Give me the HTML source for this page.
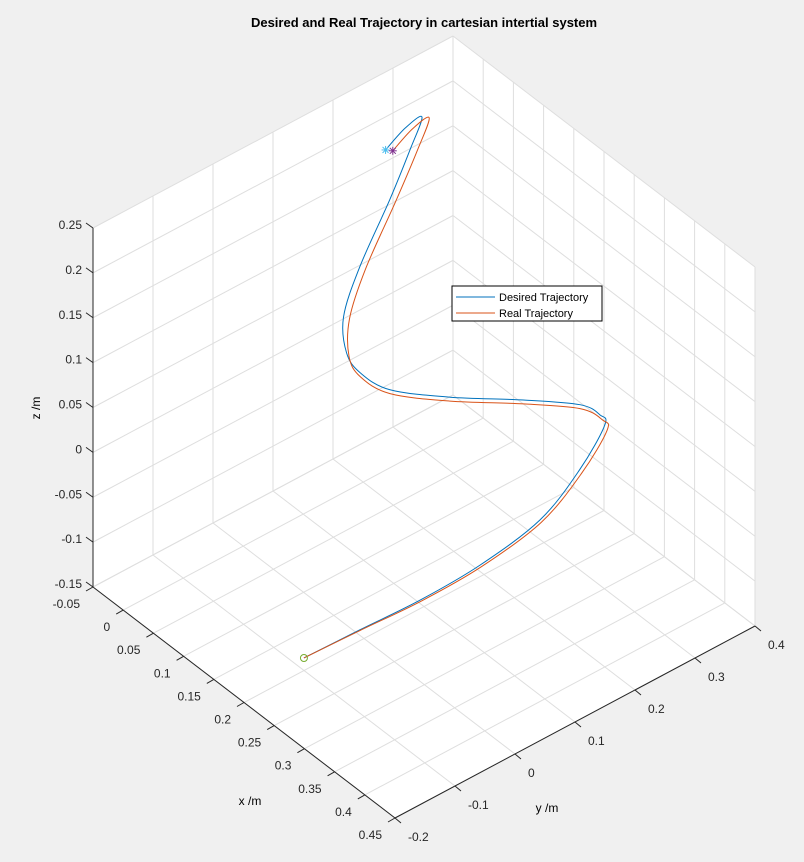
<!DOCTYPE html>
<html><head><meta charset="utf-8"><style>
body{margin:0;background:#f0f0f0;}
svg{display:block;font-family:"Liberation Sans",Arial,sans-serif;}
</style></head><body>
<svg id="chart" width="804" height="862" viewBox="0 0 804 862" xmlns="http://www.w3.org/2000/svg">
<rect width="804" height="862" fill="#f0f0f0"/>
<text x="424" y="27" text-anchor="middle" font-size="13" font-weight="bold" fill="#000">Desired and Real Trajectory in cartesian intertial system</text>
<g id="box"></g><g id="grid"></g><g id="axes"></g><g id="series"></g>
<g>
<rect x="452" y="286" width="150" height="35" fill="#fff" stroke="#000" stroke-width="1"/>
<line x1="456" y1="297" x2="495" y2="297" stroke="#0072bd" stroke-width="1"/>
<text x="499" y="301" font-size="11">Desired Trajectory</text>
<line x1="456" y1="313" x2="495" y2="313" stroke="#d95319" stroke-width="1"/>
<text x="499" y="317" font-size="11">Real Trajectory</text>
</g>
<text x="250" y="805" text-anchor="middle" font-size="12">x /m</text>
<text x="547" y="812" text-anchor="middle" font-size="12">y /m</text>
<text transform="translate(40,408) rotate(-90)" text-anchor="middle" font-size="12">z /m</text>
</svg>
<script>
const xTicks=[-0.05,0,0.05,0.1,0.15,0.2,0.25,0.3,0.35,0.4,0.45];
const yTicks=[-0.2,-0.1,0,0.1,0.2,0.3,0.4];
const zTicks=[-0.15,-0.1,-0.05,0,0.05,0.1,0.15,0.2,0.25];
const xTickLabels=["-0.05","0","0.05","0.1","0.15","0.2","0.25","0.3","0.35","0.4","0.45"];
const yTickLabels=["-0.2","-0.1","0","0.1","0.2","0.3","0.4"];
const zTickLabels=["-0.15","-0.1","-0.05","0","0.05","0.1","0.15","0.2","0.25"];
const desX=[0.184,0.209,0.235,0.254,0.260,0.246,0.229,0.224,0.209,0.176,0.134,0.095,0.065,0.053,0.028,0.021,0.013,0.003,-0.002,0.012,0.038];
const desY=[-0.084,-0.016,0.058,0.139,0.233,0.313,0.372,0.369,0.351,0.290,0.210,0.149,0.130,0.119,0.139,0.173,0.231,0.275,0.300,0.258,0.199];
const desZ=[-0.15,-0.13,-0.11,-0.09,-0.07,-0.05,-0.03,-0.02,-0.01,0.0,0.01,0.02,0.03,0.05,0.07,0.11,0.16,0.195,0.22,0.23,0.24];
const realX=[0.184,0.210,0.237,0.257,0.264,0.252,0.237,0.232,0.214,0.181,0.139,0.100,0.070,0.059,0.034,0.027,0.019,0.009,0.004,0.018,0.044];
const realY=[-0.084,-0.016,0.058,0.138,0.231,0.310,0.368,0.365,0.346,0.285,0.205,0.144,0.125,0.117,0.143,0.177,0.235,0.281,0.306,0.264,0.205];
const realZ=[-0.15,-0.13,-0.11,-0.09,-0.07,-0.05,-0.03,-0.02,-0.01,0.0,0.01,0.02,0.03,0.05,0.07,0.11,0.16,0.195,0.22,0.23,0.24];
const X0=-0.05,X1=0.45,Y0=-0.2,Y1=0.4,Z0=-0.15,Z1=0.25;
function P(x,y,z){const u=x-X1,v=y-Y0,w=z-Z0;return [395+604*u+600*v, 818+462*u-320*v-897.5*w];}
const NS="http://www.w3.org/2000/svg";
function mk(tag,attrs,parent){const e=document.createElementNS(NS,tag);for(const k in attrs)e.setAttribute(k,attrs[k]);parent.appendChild(e);return e;}
const box=document.getElementById('box'),grid=document.getElementById('grid'),axes=document.getElementById('axes'),series=document.getElementById('series');
const poly=[P(X0,Y0,Z0),P(X0,Y0,Z1),P(X0,Y1,Z1),P(X1,Y1,Z1),P(X1,Y1,Z0),P(X1,Y0,Z0)];
const bg=mk('polygon',{points:poly.map(p=>p.join(',')).join(' '),fill:'#fff'},box);


function gl(a,b,name){const l=mk('line',{x1:a[0],y1:a[1],x2:b[0],y2:b[1],stroke:'#dedede','stroke-width':1},grid);

}
xTicks.forEach(x=>{gl(P(x,Y0,Z0),P(x,Y1,Z0),'x-grid-floor');gl(P(x,Y1,Z0),P(x,Y1,Z1),'x-grid-wall');});
yTicks.forEach(y=>{gl(P(X0,y,Z0),P(X1,y,Z0),'y-grid-floor');gl(P(X0,y,Z0),P(X0,y,Z1),'y-grid-wall');});
zTicks.forEach(z=>{gl(P(X0,Y0,z),P(X0,Y1,z),'z-grid-left');gl(P(X0,Y1,z),P(X1,Y1,z),'z-grid-right');});
function al(a,b,name){const l=mk('line',{x1:a[0],y1:a[1],x2:b[0],y2:b[1],stroke:'#262626','stroke-width':1},axes);

}
al(P(X0,Y0,Z0),P(X1,Y0,Z0),'x-axis-line');
al(P(X1,Y0,Z0),P(X1,Y1,Z0),'y-axis-line');
al(P(X0,Y0,Z0),P(X0,Y0,Z1),'z-axis-line');
function lab(p,txt,anchor,name){const t=mk('text',{x:p[0],y:p[1],'text-anchor':anchor,'font-size':12,fill:'#262626'},axes);t.textContent=txt;

}
xTicks.forEach((x,i)=>{const p=P(x,Y0,Z0);al(p,[p[0]-7,p[1]+4],'x-tick');lab([p[0]-13,p[1]+21],xTickLabels[i],'end','x-tick-label');});
yTicks.forEach((y,i)=>{const p=P(X1,y,Z0);al(p,[p[0]+6,p[1]+5],'y-tick');lab([p[0]+13,p[1]+23],yTickLabels[i],'start','y-tick-label');});
zTicks.forEach((z,i)=>{const p=P(X0,Y0,z);al(p,[p[0]-7,p[1]-5],'z-tick');lab([p[0]-11,p[1]+1],zTickLabels[i],'end','z-tick-label');});
function smooth(pts){let d='M'+pts[0].join(',');for(let i=0;i<pts.length-1;i++){const p0=pts[i-1]||pts[i],p1=pts[i],p2=pts[i+1],p3=pts[i+2]||p2;
const c1=[p1[0]+(p2[0]-p0[0])/6,p1[1]+(p2[1]-p0[1])/6],c2=[p2[0]-(p3[0]-p1[0])/6,p2[1]-(p3[1]-p1[1])/6];
d+=' C'+c1.join(',')+' '+c2.join(',')+' '+p2.join(',');}return d;}
const dp=desX.map((x,i)=>P(x,desY[i],desZ[i])),rp=realX.map((x,i)=>P(x,realY[i],realZ[i]));
const l1=mk('path',{d:smooth(dp),fill:'none',stroke:'#0072bd','stroke-width':1},series);


const l2=mk('path',{d:smooth(rp),fill:'none',stroke:'#d95319','stroke-width':1},series);


const s=dp[0];const c=mk('circle',{cx:s[0],cy:s[1],r:3.5,fill:'none',stroke:'#77ac30','stroke-width':1},series);


function star(p,col,name){const g=mk('g',{stroke:col,'stroke-width':1},series);


[[-4,0,4,0],[0,-4,0,4],[-3,-3,3,3],[-3,3,3,-3]].forEach(a=>mk('line',{x1:p[0]+a[0],y1:p[1]+a[1],x2:p[0]+a[2],y2:p[1]+a[3]},g));}
star(dp[dp.length-1],'#4dbeee','desired-end-marker');
star(rp[rp.length-1],'#7e2f8e','real-end-marker');
</script>
</body></html>
